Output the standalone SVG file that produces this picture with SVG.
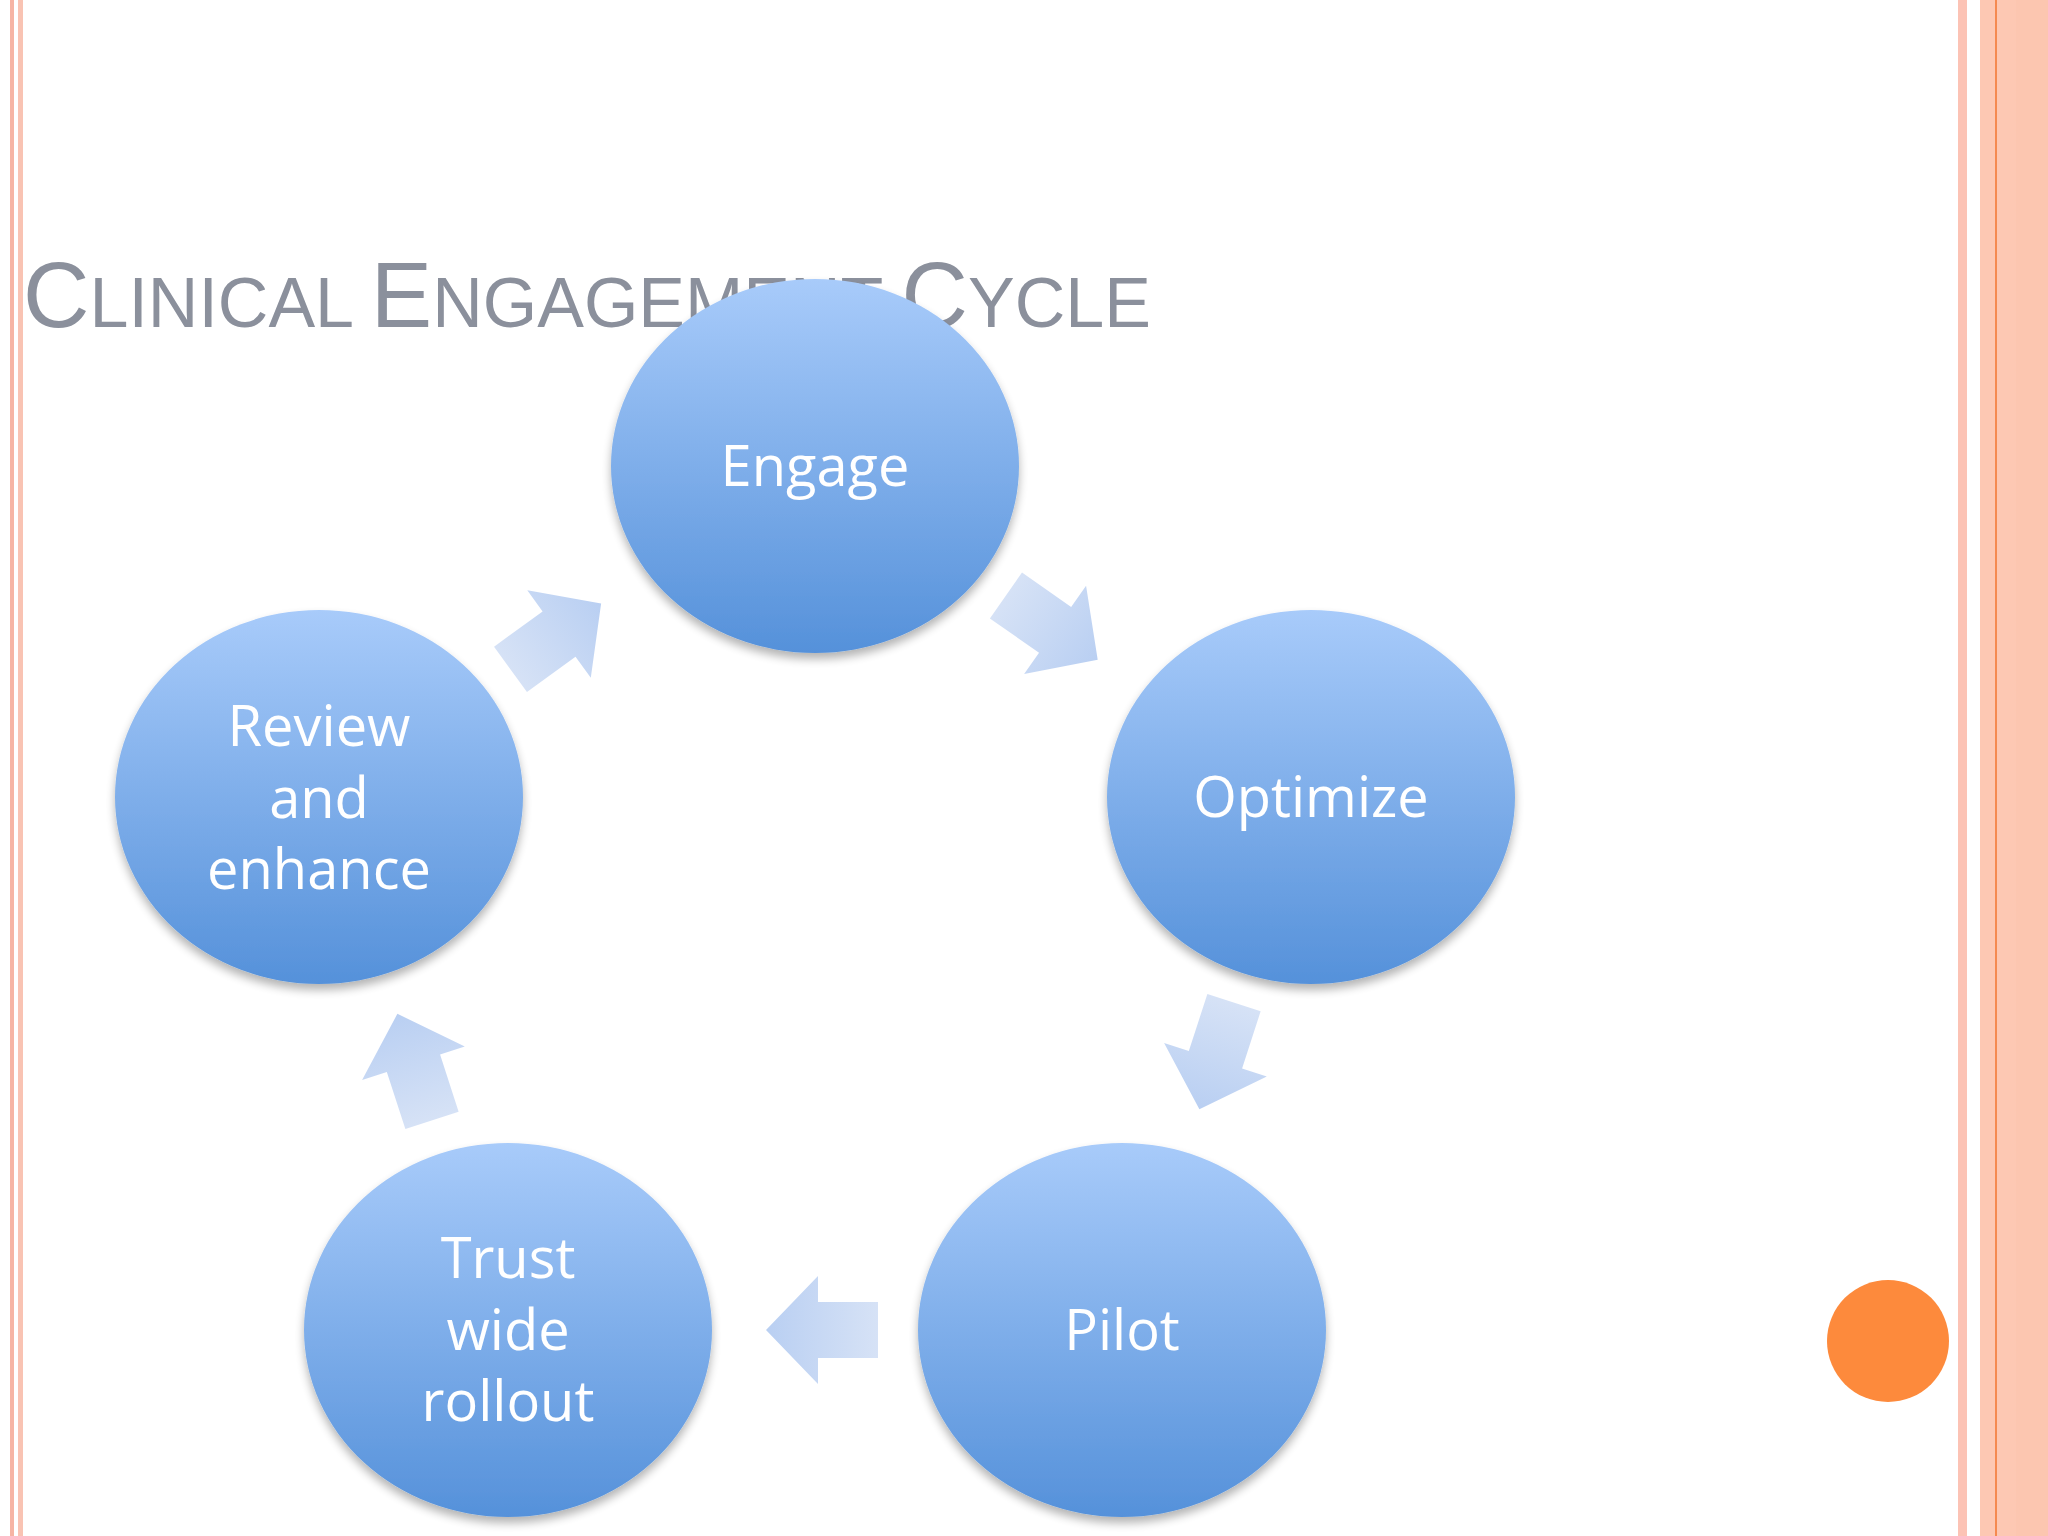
<svg xmlns="http://www.w3.org/2000/svg" width="2048" height="1536" viewBox="0 0 2048 1536">
<defs>
<linearGradient id="cg" x1="0" y1="0" x2="0" y2="1"><stop offset="0" stop-color="#a8cbfa"/><stop offset="1" stop-color="#5591da"/></linearGradient>
<linearGradient id="ag" x1="0" y1="0" x2="1" y2="0"><stop offset="0" stop-color="#d6e2f6"/><stop offset="1" stop-color="#b9cff2"/></linearGradient>
<filter id="sh" x="-20%" y="-20%" width="140%" height="150%"><feGaussianBlur in="SourceAlpha" stdDeviation="5"/><feOffset dy="6"/><feComponentTransfer><feFuncA type="linear" slope="0.3"/></feComponentTransfer><feMerge><feMergeNode/><feMergeNode in="SourceGraphic"/></feMerge></filter>
<polygon id="arr" points="-55,-28 5,-28 5,-54 57,0 5,54 5,28 -55,28" fill="url(#ag)"/>
<style>
.c{fill:url(#cg);filter:url(#sh)}
.t{font-family:"Open Sans","Liberation Sans",sans-serif;font-size:56px;fill:#fff;text-anchor:middle}
.ti{font-family:"Liberation Sans",Arial,sans-serif;fill:#8b909c}
</style>
</defs>
<rect width="2048" height="1536" fill="#fff"/>
<g id="borders">
<rect x="10" y="0" width="4" height="1536" fill="#f6b4a4"/>
<rect x="18" y="0" width="5" height="1536" fill="#f9c3b3"/>
<rect x="1958" y="0" width="9" height="1536" fill="#fcc3b5"/>
<rect x="1980" y="0" width="68" height="1536" fill="#fdc8b3"/>
<rect x="1995" y="0" width="2" height="1536" fill="#f58a50"/>
<rect x="2016" y="0" width="32" height="1536" fill="#fcc6b0"/>
</g>
<text class="ti" x="23" y="327"><tspan font-size="92">C</tspan><tspan font-size="70">LINICAL </tspan><tspan font-size="92">E</tspan><tspan font-size="70">NGAGEMENT </tspan><tspan font-size="92">C</tspan><tspan font-size="70">YCLE</tspan></text>
<g id="connectors">
<use href="#arr" transform="translate(1051,627) rotate(35)"/>
<use href="#arr" transform="translate(1217,1055) rotate(108)"/>
<use href="#arr" transform="translate(823,1330) rotate(180)"/>
<use href="#arr" transform="translate(415,1068) rotate(-108)"/>
<use href="#arr" transform="translate(555,637) rotate(-36)"/>
</g>
<g id="engage"><ellipse class="c" cx="815" cy="466" rx="204" ry="187"/><text class="t" x="815" y="486">Engage</text></g>
<g id="optimize"><ellipse class="c" cx="1311" cy="797" rx="204" ry="187"/><text class="t" x="1311" y="817">Optimize</text></g>
<g id="pilot"><ellipse class="c" cx="1122" cy="1330" rx="204" ry="187"/><text class="t" x="1122" y="1350">Pilot</text></g>
<g id="trust"><ellipse class="c" cx="508" cy="1330" rx="204" ry="187"/><text class="t" x="508" y="1278">Trust</text><text class="t" x="508" y="1350">wide</text><text class="t" x="508" y="1421">rollout</text></g>
<g id="review"><ellipse class="c" cx="319" cy="797" rx="204" ry="187"/><text class="t" x="319" y="746">Review</text><text class="t" x="319" y="818">and</text><text class="t" x="319" y="889">enhance</text></g>
<circle cx="1888" cy="1341" r="61" fill="#fd8a3c"/>
</svg>
